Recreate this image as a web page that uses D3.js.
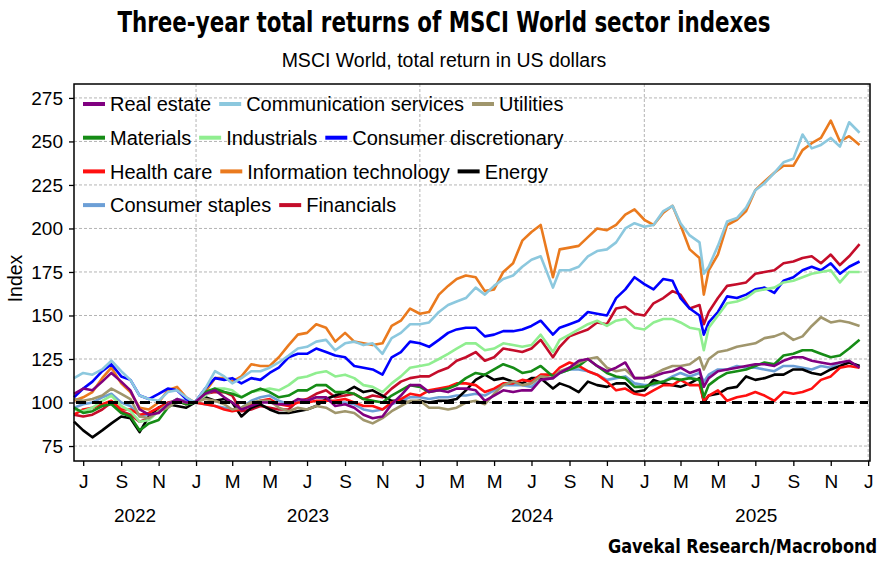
<!DOCTYPE html>
<html>
<head>
<meta charset="utf-8">
<script src="https://cdn.jsdelivr.net/npm/d3@7"></script>
<style>
  body { margin: 0; background: #fff; }
  svg text { font-family: "Liberation Sans", Arial, sans-serif; fill: #000; }
</style>
</head>
<body>
<div id="chart"></div>
<script>
// Set dimensions
const width = 892;
const height = 561;
const margin = { top: 84, right: 22, bottom: 100, left: 74 };

// Sample dates (roughly twice a month), index rebased to 100 at end-2022
const dates = [
  "2022-06-16","2022-07-01","2022-07-16","2022-08-01","2022-08-16","2022-09-01","2022-09-16",
  "2022-10-01","2022-10-16","2022-11-01","2022-11-16","2022-12-01","2022-12-16","2022-12-30",
  "2023-01-16","2023-02-01","2023-02-16","2023-03-01","2023-03-16","2023-04-01","2023-04-16",
  "2023-05-01","2023-05-16","2023-06-01","2023-06-16","2023-07-01","2023-07-16","2023-08-01",
  "2023-08-16","2023-09-01","2023-09-16","2023-10-01","2023-10-16","2023-11-01","2023-11-16",
  "2023-12-01","2023-12-16",
  "2024-01-01","2024-01-16","2024-02-01","2024-02-16","2024-03-01","2024-03-16","2024-04-01",
  "2024-04-16","2024-05-01","2024-05-16","2024-06-01","2024-06-16","2024-07-01","2024-07-16",
  "2024-08-05","2024-08-16","2024-09-01","2024-09-16","2024-10-01","2024-10-16","2024-11-01",
  "2024-11-16","2024-12-01","2024-12-16",
  "2025-01-01","2025-01-16","2025-02-01","2025-02-16","2025-03-01","2025-03-16","2025-04-01",
  "2025-04-08","2025-04-16","2025-05-01","2025-05-16","2025-06-01","2025-06-16","2025-07-01",
  "2025-07-16","2025-08-01","2025-08-16","2025-09-01","2025-09-16","2025-10-01","2025-10-16",
  "2025-11-01","2025-11-16","2025-12-01","2025-12-18"
];

const realEstate = [
  105,108,107,112,117,112,107,96,93,94,99,102,100,100,
  105,107,103,100,96,98,100,100,99,99,102,101,103,103,98,99,97,93,91,92,99,104,110,
  110,106,107,106,108,108,107,101,104,107,106,107,107,113,114,117,120,124,125,121,118,120,123,114,
  114,115,117,118,120,117,119,109,114,118,119,120,121,122,122,121,124,126,126,124,123,122,123,124,120
];
const commServices = [
  114,117,116,119,124,118,113,104,102,101,106,107,103,100,
  108,118,115,111,114,118,118,120,123,127,131,132,135,136,130,134,135,133,134,128,137,140,145,
  145,146,152,156,158,160,166,162,167,171,173,178,182,184,166,176,176,178,184,187,188,192,200,203,
  201,202,210,213,203,196,192,174,178,190,204,206,212,222,226,232,238,240,254,246,248,252,247,261,255
];
const utilities = [
  102,101,102,104,108,105,102,92,91,95,97,101,100,100,
  102,101,99,96,97,100,101,101,97,95,97,96,98,97,94,95,94,90,88,91,95,98,101,
  101,97,97,96,97,100,101,99,105,110,112,110,111,115,114,118,120,123,125,126,120,118,119,114,
  114,116,119,121,121,122,126,119,125,129,130,132,133,134,137,138,140,136,138,144,149,146,147,146,144
];
const materials = [
  97,94,95,98,99,94,92,84,88,90,97,101,99,100,
  106,108,106,105,103,106,108,106,103,104,107,107,110,110,106,106,105,102,101,100,104,107,110,
  109,106,107,108,110,114,117,116,119,122,120,117,118,121,115,117,119,121,125,121,117,115,114,109,
  109,111,112,114,113,114,113,103,110,114,117,118,119,121,123,122,127,128,130,130,128,126,127,131,136
];
const industrials = [
  96,95,97,101,104,98,95,89,90,95,99,102,99,100,
  104,108,108,107,103,106,107,108,107,110,114,115,117,118,115,116,114,110,109,106,111,115,120,
  121,122,125,128,131,134,134,130,131,134,133,132,133,139,129,136,139,142,145,147,144,147,148,143,
  142,146,148,148,146,143,142,130,143,150,157,158,160,164,165,166,169,170,172,174,175,176,169,175,175
];
const consDiscretionary = [
  103,108,112,118,122,115,113,104,102,105,108,107,102,100,
  108,114,113,114,111,114,113,117,120,126,128,128,131,129,127,126,121,120,119,116,126,129,135,
  134,132,136,140,142,143,143,138,139,141,141,142,144,147,139,143,145,147,152,151,150,160,165,172,
  168,165,171,170,160,154,150,139,146,152,161,160,162,165,166,163,170,172,176,178,176,180,174,178,181
];
const healthCare = [
  93,96,97,99,101,96,96,93,94,97,99,101,100,100,
  99,98,96,95,96,99,101,102,99,98,100,100,101,101,101,102,100,98,98,96,100,102,105,
  104,107,108,109,111,111,110,106,108,111,111,113,112,116,116,120,123,121,118,116,112,107,108,105,
  104,107,110,110,113,110,110,101,104,107,101,103,104,106,104,101,106,105,106,108,113,115,120,121,120
];
const infoTech = [
  101,103,106,114,120,111,106,97,96,100,107,109,103,100,
  106,114,114,112,115,122,121,121,126,133,139,140,145,143,135,140,135,134,133,134,144,147,154,
  151,152,162,167,171,173,172,164,165,175,180,193,198,202,172,188,189,190,195,200,199,202,208,211,
  205,202,209,213,202,188,183,162,176,185,202,205,210,222,227,232,236,236,245,249,252,262,250,253,248
];
const energy = [
  89,84,80,84,88,92,91,83,92,97,99,98,97,100,
  103,101,102,100,92,97,99,96,94,94,95,96,98,102,104,106,109,106,107,104,101,101,100,
  101,100,101,101,102,107,113,116,113,114,112,111,114,114,108,111,109,106,112,110,109,111,111,106,
  107,113,111,110,109,111,114,100,104,105,108,109,115,113,114,116,116,119,119,117,116,119,121,123,121
];
const consStaples = [
  97,99,100,103,105,100,98,92,93,96,99,102,101,100,
  99,98,97,96,97,101,103,104,101,99,101,101,103,102,100,100,99,96,95,96,99,101,103,
  103,102,103,103,104,104,105,104,107,110,110,110,109,113,114,117,119,119,118,116,113,114,115,111,
  110,110,112,115,117,115,117,112,116,119,119,121,120,120,119,118,121,121,120,119,121,120,123,123,121
];
const financials = [
  93,92,93,96,100,95,93,89,91,97,100,101,99,100,
  105,106,106,104,95,96,98,97,96,96,101,102,105,107,103,104,105,102,104,103,108,112,114,
  115,115,118,120,124,126,129,124,126,131,130,129,131,136,126,132,138,140,142,146,145,154,155,151,
  150,157,160,164,162,154,156,145,152,160,167,168,169,174,175,176,180,181,183,184,180,185,179,184,191
];

const seriesNames = [
  "Real estate", "Communication services", "Utilities",
  "Materials", "Industrials", "Consumer discretionary",
  "Health care", "Information technology", "Energy",
  "Consumer staples", "Financials"
];
const seriesValues = [
  realEstate, commServices, utilities,
  materials, industrials, consDiscretionary,
  healthCare, infoTech, energy,
  consStaples, financials
];
const seriesColors = [
  "#800080", "#8cc8de", "#a0966c",
  "#168c16", "#90ee90", "#0000ff",
  "#ff1010", "#ea7a1e", "#000000",
  "#6c9fd6", "#c40d2a"
];

const yTicks = [75, 100, 125, 150, 175, 200, 225, 250, 275];
const years = [2022, 2023, 2024, 2025];
const baseline = 100;

const parse = d3.timeParse("%Y-%m-%d");
const dateObjs = dates.map(parse);

const series = seriesNames.map((name, i) => ({
  name,
  color: seriesColors[i],
  values: seriesValues[i].map((v, j) => ({ date: dateObjs[j], value: v }))
}));

const svg = d3.select("#chart")
  .append("svg")
  .attr("width", width)
  .attr("height", height)
  .attr("viewBox", [0, 0, width, height]);

// plot frame edges
const x0 = margin.left, x1 = width - margin.right;
const y0 = margin.top, y1 = height - margin.bottom;

const x = d3.scaleTime()
  .domain([new Date(2022, 5, 16), new Date(2026, 0, 4)])
  .range([x0, x1]);

const y = d3.scaleLinear()
  .domain([66.4, 283])
  .range([y1, y0]);

// Titles
svg.append("text")
  .attr("x", width / 2 - 2)
  .attr("y", 32)
  .attr("text-anchor", "middle")
  .style("font-family", "'Liberation Sans Narrow', 'DejaVu Sans Condensed', sans-serif")
  .style("font-weight", "bold")
  .style("font-size", "28px")
  .attr("textLength", 653)
  .attr("lengthAdjust", "spacingAndGlyphs")
  .text("Three-year total returns of MSCI World sector indexes");

svg.append("text")
  .attr("x", width / 2 - 2)
  .attr("y", 67)
  .attr("text-anchor", "middle")
  .style("font-size", "19.5px")
  .text("MSCI World, total return in US dollars");

// Grid
const grid = svg.append("g").attr("stroke", "#b4b4b4").attr("stroke-dasharray", "3,2").attr("stroke-width", 1);
grid.selectAll("line.h")
  .data(yTicks)
  .join("line")
  .attr("x1", x0).attr("x2", x1)
  .attr("y1", d => y(d)).attr("y2", d => y(d));
grid.selectAll("line.v")
  .data(years.map(yr => new Date(yr + 1, 0, 1)))
  .join("line")
  .attr("class", "v")
  .attr("x1", d => x(d)).attr("x2", d => x(d))
  .attr("y1", y0).attr("y2", y1);

// Series lines (first in legend drawn on top)
const line = d3.line()
  .x(d => x(d.date))
  .y(d => y(d.value));

svg.append("g")
  .selectAll("path")
  .data(series.slice().reverse())
  .join("path")
  .attr("fill", "none")
  .attr("stroke", d => d.color)
  .attr("stroke-width", 2.6)
  .attr("stroke-linejoin", "round")
  .attr("d", d => line(d.values));

// 100 baseline
svg.append("line")
  .attr("x1", x0 + 2).attr("x2", x1 - 2)
  .attr("y1", y(baseline)).attr("y2", y(baseline))
  .attr("stroke", "#000")
  .attr("stroke-width", 3.2)
  .attr("stroke-dasharray", "10,6");

// Frame
svg.append("rect")
  .attr("x", x0).attr("y", y0)
  .attr("width", x1 - x0).attr("height", y1 - y0)
  .attr("fill", "none")
  .attr("stroke", "#000")
  .attr("stroke-width", 1.5);

// Axes
const yAxis = svg.append("g")
  .attr("transform", `translate(${x0},0)`)
  .call(d3.axisLeft(y).tickValues(yTicks).tickSize(5).tickPadding(6));
yAxis.select(".domain").remove();
yAxis.selectAll("text").style("font-size", "19px");
yAxis.selectAll("line").attr("stroke-width", 1.3);

const monthLetter = d => d3.timeFormat("%b")(d).charAt(0);
const xAxis = svg.append("g")
  .attr("transform", `translate(0,${y1})`)
  .call(d3.axisBottom(x).ticks(d3.timeMonth.filter(d => d.getMonth() % 2 === 0))
    .tickFormat(monthLetter).tickSize(5).tickPadding(9));
xAxis.select(".domain").remove();
xAxis.selectAll("text").style("font-size", "19px");
xAxis.selectAll("line").attr("stroke-width", 1.3);

// Year labels centred on the visible part of each year
const [dStart, dEnd] = x.domain();
svg.append("g")
  .selectAll("text")
  .data(years)
  .join("text")
  .attr("x", yr => {
    const a = Math.max(x(new Date(yr, 0, 1)), x(dStart));
    const b = Math.min(x(new Date(yr + 1, 0, 1)), x(dEnd));
    return (a + b) / 2;
  })
  .attr("y", 522)
  .attr("text-anchor", "middle")
  .style("font-size", "19px")
  .text(d => d);

// Y label
svg.append("text")
  .attr("transform", `translate(22,${(y0 + y1) / 2 + 6}) rotate(-90)`)
  .attr("text-anchor", "middle")
  .style("font-size", "19.5px")
  .text("Index");

// Legend: three entries per row, flowing left to right
const legendRows = [[0, 1, 2], [3, 4, 5], [6, 7, 8], [9, 10]];
const legend = svg.append("g");
legendRows.forEach((row, r) => {
  let lx = 83;
  const ly = 104 + r * 33.7;
  row.forEach(i => {
    const g = legend.append("g");
    g.append("line")
      .attr("x1", lx).attr("x2", lx + 22)
      .attr("y1", ly).attr("y2", ly)
      .attr("stroke", seriesColors[i])
      .attr("stroke-width", 4);
    const t = g.append("text")
      .attr("x", lx + 27)
      .attr("y", ly)
      .attr("dy", "0.36em")
      .style("font-size", "20px")
      .text(seriesNames[i]);
    lx += 27 + t.node().getComputedTextLength() + 8;
  });
});

// Source
svg.append("text")
  .attr("x", 877)
  .attr("y", 553)
  .attr("text-anchor", "end")
  .style("font-family", "'Liberation Sans Narrow', 'DejaVu Sans Condensed', sans-serif")
  .style("font-weight", "bold")
  .style("font-size", "19px")
  .attr("textLength", 269)
  .attr("lengthAdjust", "spacingAndGlyphs")
  .text("Gavekal Research/Macrobond");
</script>
</body>
</html>
